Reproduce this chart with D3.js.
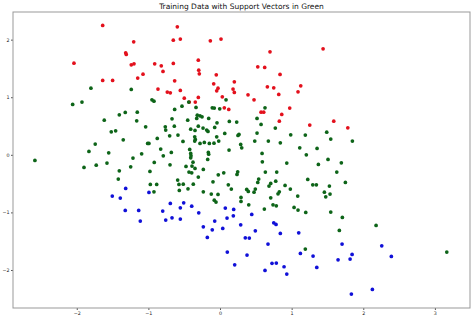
<html>
<head>
<script src="https://d3js.org/d3.v7.min.js"></script>
<style>
  body { margin: 0; background: #fff; }
  text { font-family: "DejaVu Sans", sans-serif; }
</style>
</head>
<body>
<script>
// points, [x, y]
var redPts = [
  [-1.638,2.247],[-0.596,2.222],[-1.205,1.962],[-0.652,1.991],[-0.554,2.009],
  [-1.317,1.771],[-1.309,1.743],[-2.039,1.592],[-1.239,1.563],[-1.201,1.580],
  [-0.912,1.580],[-0.820,1.545],[-0.652,1.587],[-0.303,1.644],[-0.796,1.448],
  [-0.297,1.470],[-0.289,1.406],[-1.075,1.401],[-1.149,1.332],[-1.638,1.292],
  [-1.499,1.292],[-0.633,1.285],[-0.866,1.141],[-0.554,1.118],[-0.736,1.089],
  [-0.694,1.076],[-0.499,0.984],[-0.429,0.915],[-0.345,0.915],[-0.303,0.997],
  [-0.135,1.979],[0.014,2.009],[0.698,1.788],[1.439,1.840],[-0.052,1.389],
  [0.527,1.528],[0.624,1.517],[0.838,1.396],[-0.088,1.233],[0.200,1.267],
  [-0.028,1.158],[-0.046,1.111],[0.182,1.141],[0.200,1.083],[0.661,1.181],
  [0.750,1.163],[1.127,1.198],[1.089,1.094],[0.391,1.042],[0.820,1.049],
  [0.032,1.007],[0.475,0.955],[0.060,0.816],[0.122,0.788],[0.973,0.811],
  [0.573,0.741],[0.610,0.741],[0.862,0.701],[0.828,0.585],[1.253,0.516],
  [1.588,0.585],[1.784,0.469]
];
var greenPts = [
  [-1.802,1.158],[-1.239,1.135],[-2.057,0.875],[-1.927,0.915],[-0.950,0.955],
  [-0.922,0.932],[-0.633,0.788],[-0.531,0.845],[-0.437,0.915],[0.084,0.955],
  [-0.108,0.816],[-0.080,0.811],[-0.004,0.799],[0.628,0.816],[-0.251,0.660],
  [-0.279,0.677],[-0.158,0.632],[0.517,0.632],[0.130,0.580],[0.233,0.568],
  [-0.042,0.556],[0.573,0.528],[-0.237,0.464],[-0.074,0.476],[-0.186,0.429],
  [-0.168,0.406],[0.772,0.464],[0.066,0.372],[0.265,0.354],[0.251,0.337],
  [0.517,0.377],[0.987,0.347],[1.191,0.342],[1.490,0.394],[1.546,0.273],
  [-0.046,0.313],[-0.018,0.238],[-0.084,0.203],[-0.149,0.198],[-0.219,0.215],
  [-0.279,0.198],[0.485,0.238],[0.675,0.238],[0.842,0.208],[0.289,0.181],
  [0.303,0.122],[0.126,0.082],[1.113,0.122],[1.355,0.111],[-0.163,0.042],
  [-0.158,0.012],[0.587,0.024],[1.205,0.000],[-0.172,-0.080],[0.591,-0.122],
  [1.508,-0.080],[1.373,-0.167],[0.932,-0.144],[-0.233,-0.253],[0.633,-0.300],
  [0.792,-0.300],[0.052,-0.313],[-0.024,-0.347],[0.247,-0.295],[0.237,-0.340],
  [1.630,-0.300],[0.540,-0.422],[0.527,-0.479],[-0.098,-0.469],[0.116,-0.521],
  [1.225,-0.427],[1.295,-0.521],[1.345,-0.521],[0.708,-0.497],[0.684,-0.543],
  [0.778,-0.457],[0.908,-0.531],[0.158,-0.595],[0.373,-0.601],[0.395,-0.635],
  [0.493,-0.595],[0.475,-0.648],[0.828,-0.642],[0.810,-0.677],[0.982,-0.595],
  [-0.233,-0.642],[-0.122,-0.682],[-0.028,-0.688],[1.527,-0.543],[1.457,-0.648],
  [1.536,-0.682],[1.476,-0.729],[0.293,-0.740],[0.708,-0.747],[1.085,-0.717],
  [-0.080,-0.787],[-0.056,-0.821],[0.293,-0.809],[0.401,-0.868],[0.740,-0.868],
  [0.786,-0.885],[0.619,-0.943],[1.034,-0.913],[1.089,-0.960],[1.197,-1.000],
  [1.546,-0.995],[1.191,-1.637],[1.666,-1.313],[1.708,-1.087],[2.179,-1.226],
  [3.166,-1.689],[1.848,0.238],[1.694,-0.139],[1.750,-0.479],[-2.584,-0.097],
  [-1.406,0.694],[-1.323,0.736],[-1.155,0.741],[-1.616,0.602],[-1.163,0.590],
  [-0.335,0.823],[-0.317,0.689],[-0.325,0.632],[-0.451,0.602],[-0.670,0.625],
  [-1.038,0.486],[-0.764,0.486],[-0.758,0.429],[-0.638,0.498],[-0.409,0.446],
  [-0.349,0.424],[-0.303,0.498],[-1.518,0.399],[-1.457,0.417],[-0.703,0.330],
  [-0.587,0.342],[-0.353,0.313],[-0.345,0.267],[-0.353,0.238],[-1.351,0.260],
  [-0.876,0.285],[-0.517,0.233],[-1.742,0.186],[-1.010,0.198],[-0.992,0.198],
  [-0.828,0.099],[-0.423,0.094],[-1.830,0.059],[-1.554,0.035],[-1.094,0.017],
  [-0.680,0.042],[-0.409,0.024],[-0.405,-0.017],[-0.409,-0.052],[-0.792,-0.017],
  [-1.215,-0.057],[-0.918,-0.132],[-0.377,-0.127],[-1.578,-0.144],[-1.728,-0.179],
  [-0.698,-0.174],[-1.899,-0.219],[-1.247,-0.208],[-0.475,-0.201],[-0.391,-0.196],
  [-0.349,-0.236],[-1.406,-0.278],[-0.978,-0.288],[-0.433,-0.300],[-0.395,-0.313],
  [-0.303,-0.387],[-1.420,-0.422],[-0.591,-0.439],[-0.973,-0.514],[-0.884,-0.514],
  [-0.573,-0.514],[-0.513,-0.509],[-0.373,-0.509],[-0.447,-0.590],[-0.568,-0.618],
  [-0.922,-0.642]
];
var bluePts = [
  [-1.317,-0.583],[-0.992,-0.653],[-1.504,-0.717],[-1.392,-0.752],[-1.323,-0.965],
  [-1.135,-0.965],[-1.113,-1.151],[-0.800,-0.977],[-0.694,-0.844],[-0.554,-0.920],
  [-0.507,-0.833],[-0.395,-0.891],[-0.297,-1.007],[-0.758,-1.134],[-0.670,-1.094],
  [-0.554,-1.116],[0.074,-0.925],[0.191,-0.948],[0.186,-1.059],[0.098,-1.099],
  [0.443,-1.035],[-0.074,-1.151],[-0.233,-1.250],[-0.108,-1.302],[0.038,-1.278],
  [-0.177,-1.434],[0.289,-1.215],[0.750,-1.181],[0.782,-1.208],[0.493,-1.319],
  [0.842,-1.365],[1.099,-1.354],[0.353,-1.441],[0.409,-1.446],[0.670,-1.550],
  [0.102,-1.689],[0.377,-1.741],[1.122,-1.712],[1.299,-1.759],[1.648,-1.823],
  [0.205,-1.910],[0.726,-1.885],[0.786,-1.880],[0.894,-1.944],[1.351,-1.955],
  [0.628,-2.007],[0.932,-2.071],[1.704,-1.550],[2.258,-1.580],[1.844,-1.729],
  [1.816,-1.811],[2.392,-1.764],[2.127,-2.337],[1.834,-2.418]
];
var xTicks = [-2, -1, 0, 1, 2, 3];
var yTicks = [-2, -1, 0, 1, 2];
var title = "Training Data with Support Vectors in Green";

var W = 474, H = 319;
var m = {left: 13, right: 4, top: 12, bottom: 11};

var svg = d3.select("body").append("svg")
  .attr("width", W).attr("height", H);

var x = d3.scaleLinear().domain([-2.89, 3.49]).range([m.left, W - m.right]);
var y = d3.scaleLinear().domain([-2.66, 2.48]).range([H - m.bottom, m.top]);

svg.append("text")
  .attr("x", (m.left + W - m.right) / 2).attr("y", 9.4)
  .attr("text-anchor", "middle")
  .attr("font-size", "7.5px").attr("fill", "#111")
  .text(title);

var fmt = function(d){ return d < 0 ? "\u2212" + (-d) : d; };
var xAxis = svg.append("g")
  .attr("transform", "translate(0," + (H - m.bottom) + ")")
  .call(d3.axisBottom(x).tickValues(xTicks).tickSize(2).tickPadding(1.5).tickFormat(fmt));
var yAxis = svg.append("g")
  .attr("transform", "translate(" + m.left + ",0)")
  .call(d3.axisLeft(y).tickValues(yTicks).tickSize(2).tickPadding(1.5).tickFormat(fmt));
[xAxis, yAxis].forEach(function(a){
  a.select(".domain").remove();
  a.selectAll("line").attr("stroke", "#555");
  a.selectAll("text").attr("font-size", "4.8px").attr("fill", "#222")
    .style("font-family", "DejaVu Sans, sans-serif");
});

function drawPts(data, col) {
  svg.append("g").selectAll("circle")
    .data(data).enter().append("circle")
    .attr("cx", function(d){ return x(d[0]); })
    .attr("cy", function(d){ return y(d[1]); })
    .attr("r", 1.85)
    .attr("fill", col);
}
drawPts(redPts, "#e3101c");
drawPts(greenPts, "#0d6418");
drawPts(bluePts, "#1010d8");

svg.append("rect")
  .attr("x", m.left).attr("y", m.top)
  .attr("width", W - m.right - m.left).attr("height", H - m.bottom - m.top)
  .attr("fill", "none").attr("stroke", "#999").attr("stroke-width", 1);
</script>
</body>
</html>
